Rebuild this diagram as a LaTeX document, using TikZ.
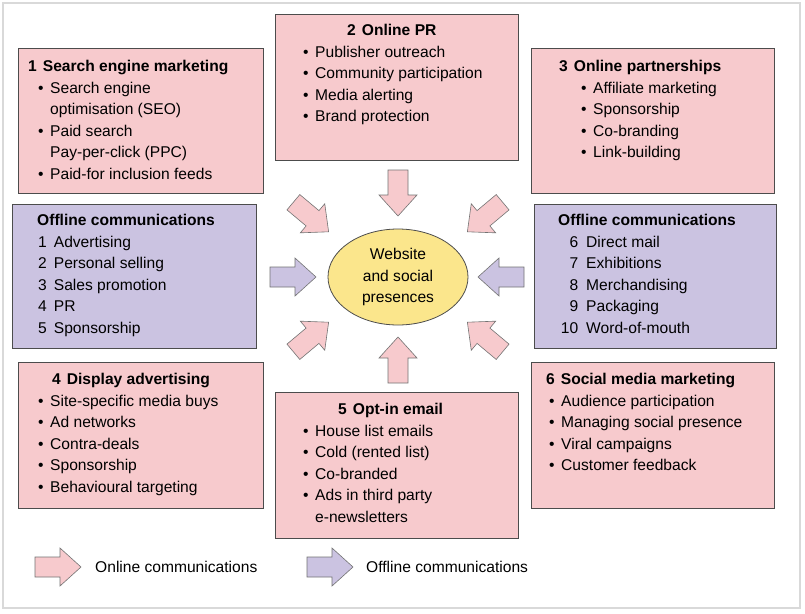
\documentclass[tikz,border=0pt]{standalone}
\usepackage{fontspec}
\usetikzlibrary{shapes.geometric}
\setmainfont{Liberation Sans}
\begin{document}
\begin{tikzpicture}[x=1pt,y=-1pt,
  pinkbox/.style={draw=black!70,fill=pinkc,line width=0.8pt},
  purpbox/.style={draw=black!70,fill=purpc,line width=0.8pt},
  txt/.style={anchor=north west,inner sep=0pt,align=left,font=\fontsize{15.6}{21.5}\selectfont},
  barrow/.style={draw=black!55,line width=0.6pt}]
\definecolor{pinkc}{HTML}{F7CACD}
\definecolor{purpc}{HTML}{CBC3E1}
\definecolor{yelc}{HTML}{FBE68C}
\useasboundingbox (0,0) rectangle (805,613);
\fill[white] (0,0) rectangle (805,613);
\draw[black!15,line width=2pt] (3,3) rectangle (800,608);
\newcommand{\bl}[1]{\makebox[12pt][l]{\textbullet}#1}
\newcommand{\ct}[1]{\hspace*{12pt}#1}
\newcommand{\nm}[2]{\makebox[20pt][r]{#1}\hspace{8pt}#2}
\newcommand{\ba}[4]{\draw[barrow,fill=#4,shift={(#1,#2)},rotate=#3] (-23,-10)--(2,-10)--(2,-19)--(23,0)--(2,19)--(2,10)--(-23,10)--cycle;}
% boxes
\draw[pinkbox] (18,48) rectangle (263,193) node[midway] (sem) {};
\draw[pinkbox] (275,14) rectangle (518,160) node[midway] (pr) {};
\draw[pinkbox] (531,48) rectangle (774,193) node[midway] (op) {};
\draw[purpbox] (12,204) rectangle (256,348) node[midway] (offl) {};
\draw[purpbox] (534,204) rectangle (776,348) node[midway] (offr) {};
\draw[pinkbox] (18,362) rectangle (263,508) node[midway] (disp) {};
\draw[pinkbox] (275,392) rectangle (518,538) node[midway] (email) {};
\draw[pinkbox] (531,362) rectangle (774,508) node[midway] (soc) {};
% texts
\node[txt] (t1) at (28,60) {\textbf{1\hspace{6pt}Search engine marketing}\\
\hspace*{10pt}\bl{Search engine}\\ \hspace*{10pt}\ct{optimisation (SEO)}\\
\hspace*{10pt}\bl{Paid search}\\ \hspace*{10pt}\ct{Pay-per-click (PPC)}\\
\hspace*{10pt}\bl{Paid-for inclusion feeds}};
\node[txt] (t2) at (303,24) {\hspace*{44pt}\textbf{2\hspace{6pt}Online PR}\\
\bl{Publisher outreach}\\ \bl{Community participation}\\ \bl{Media alerting}\\ \bl{Brand protection}};
\node[txt] (t3) at (559,60) {\textbf{3\hspace{6pt}Online partnerships}\\
\hspace*{22pt}\bl{Affiliate marketing}\\ \hspace*{22pt}\bl{Sponsorship}\\
\hspace*{22pt}\bl{Co-branding}\\ \hspace*{22pt}\bl{Link-building}};
\node[txt] (t4) at (37,214) {\textbf{Offline communications}\\
\hspace*{1pt}1\hspace{7pt}Advertising\\ \hspace*{1pt}2\hspace{7pt}Personal selling\\
\hspace*{1pt}3\hspace{7pt}Sales promotion\\ \hspace*{1pt}4\hspace{7pt}PR\\
\hspace*{1pt}5\hspace{7pt}Sponsorship};
\node[txt] (t5) at (558,214) {\textbf{Offline communications}\\
\nm{6}{Direct mail}\\ \nm{7}{Exhibitions}\\ \nm{8}{Merchandising}\\
\nm{9}{Packaging}\\ \nm{10}{Word-of-mouth}};
\node[txt] (t6) at (28,373) {\hspace*{24pt}\textbf{4\hspace{6pt}Display advertising}\\
\hspace*{10pt}\bl{Site-specific media buys}\\ \hspace*{10pt}\bl{Ad networks}\\
\hspace*{10pt}\bl{Contra-deals}\\ \hspace*{10pt}\bl{Sponsorship}\\
\hspace*{10pt}\bl{Behavioural targeting}};
\node[txt] (t7) at (303,403) {\hspace*{35pt}\textbf{5\hspace{6pt}Opt-in email}\\
\bl{House list emails}\\ \bl{Cold (rented list)}\\ \bl{Co-branded}\\
\bl{Ads in third party}\\ \ct{e-newsletters}};
\node[txt] (t8) at (546,373) {\textbf{6\hspace{6pt}Social media marketing}\\
\hspace*{3pt}\bl{Audience participation}\\ \hspace*{3pt}\bl{Managing social presence}\\
\hspace*{3pt}\bl{Viral campaigns}\\ \hspace*{3pt}\bl{Customer feedback}};
% centre
\node[draw=black!70,fill=yelc,ellipse,minimum width=140pt,minimum height=96pt,inner sep=0pt,align=center,
  font=\fontsize{15.6}{21.5}\selectfont,line width=0.8pt] (web) at (398,277) {Website\\and social\\presences};
% arrows
\ba{398}{193}{-90}{pinkc}
\ba{398}{360}{90}{pinkc}
\ba{293}{277}{0}{purpc}
\ba{501}{277}{180}{purpc}
\ba{311}{217}{-40}{pinkc}
\ba{485}{217}{-140}{pinkc}
\ba{311}{337}{40}{pinkc}
\ba{485}{337}{140}{pinkc}
% legend
\ba{58}{567}{0}{pinkc}
\node[txt,anchor=west] (l1) at (95,567) {Online communications};
\ba{330}{567}{0}{purpc}
\node[txt,anchor=west] (l2) at (366,567) {Offline communications};
\end{tikzpicture}
\end{document}
